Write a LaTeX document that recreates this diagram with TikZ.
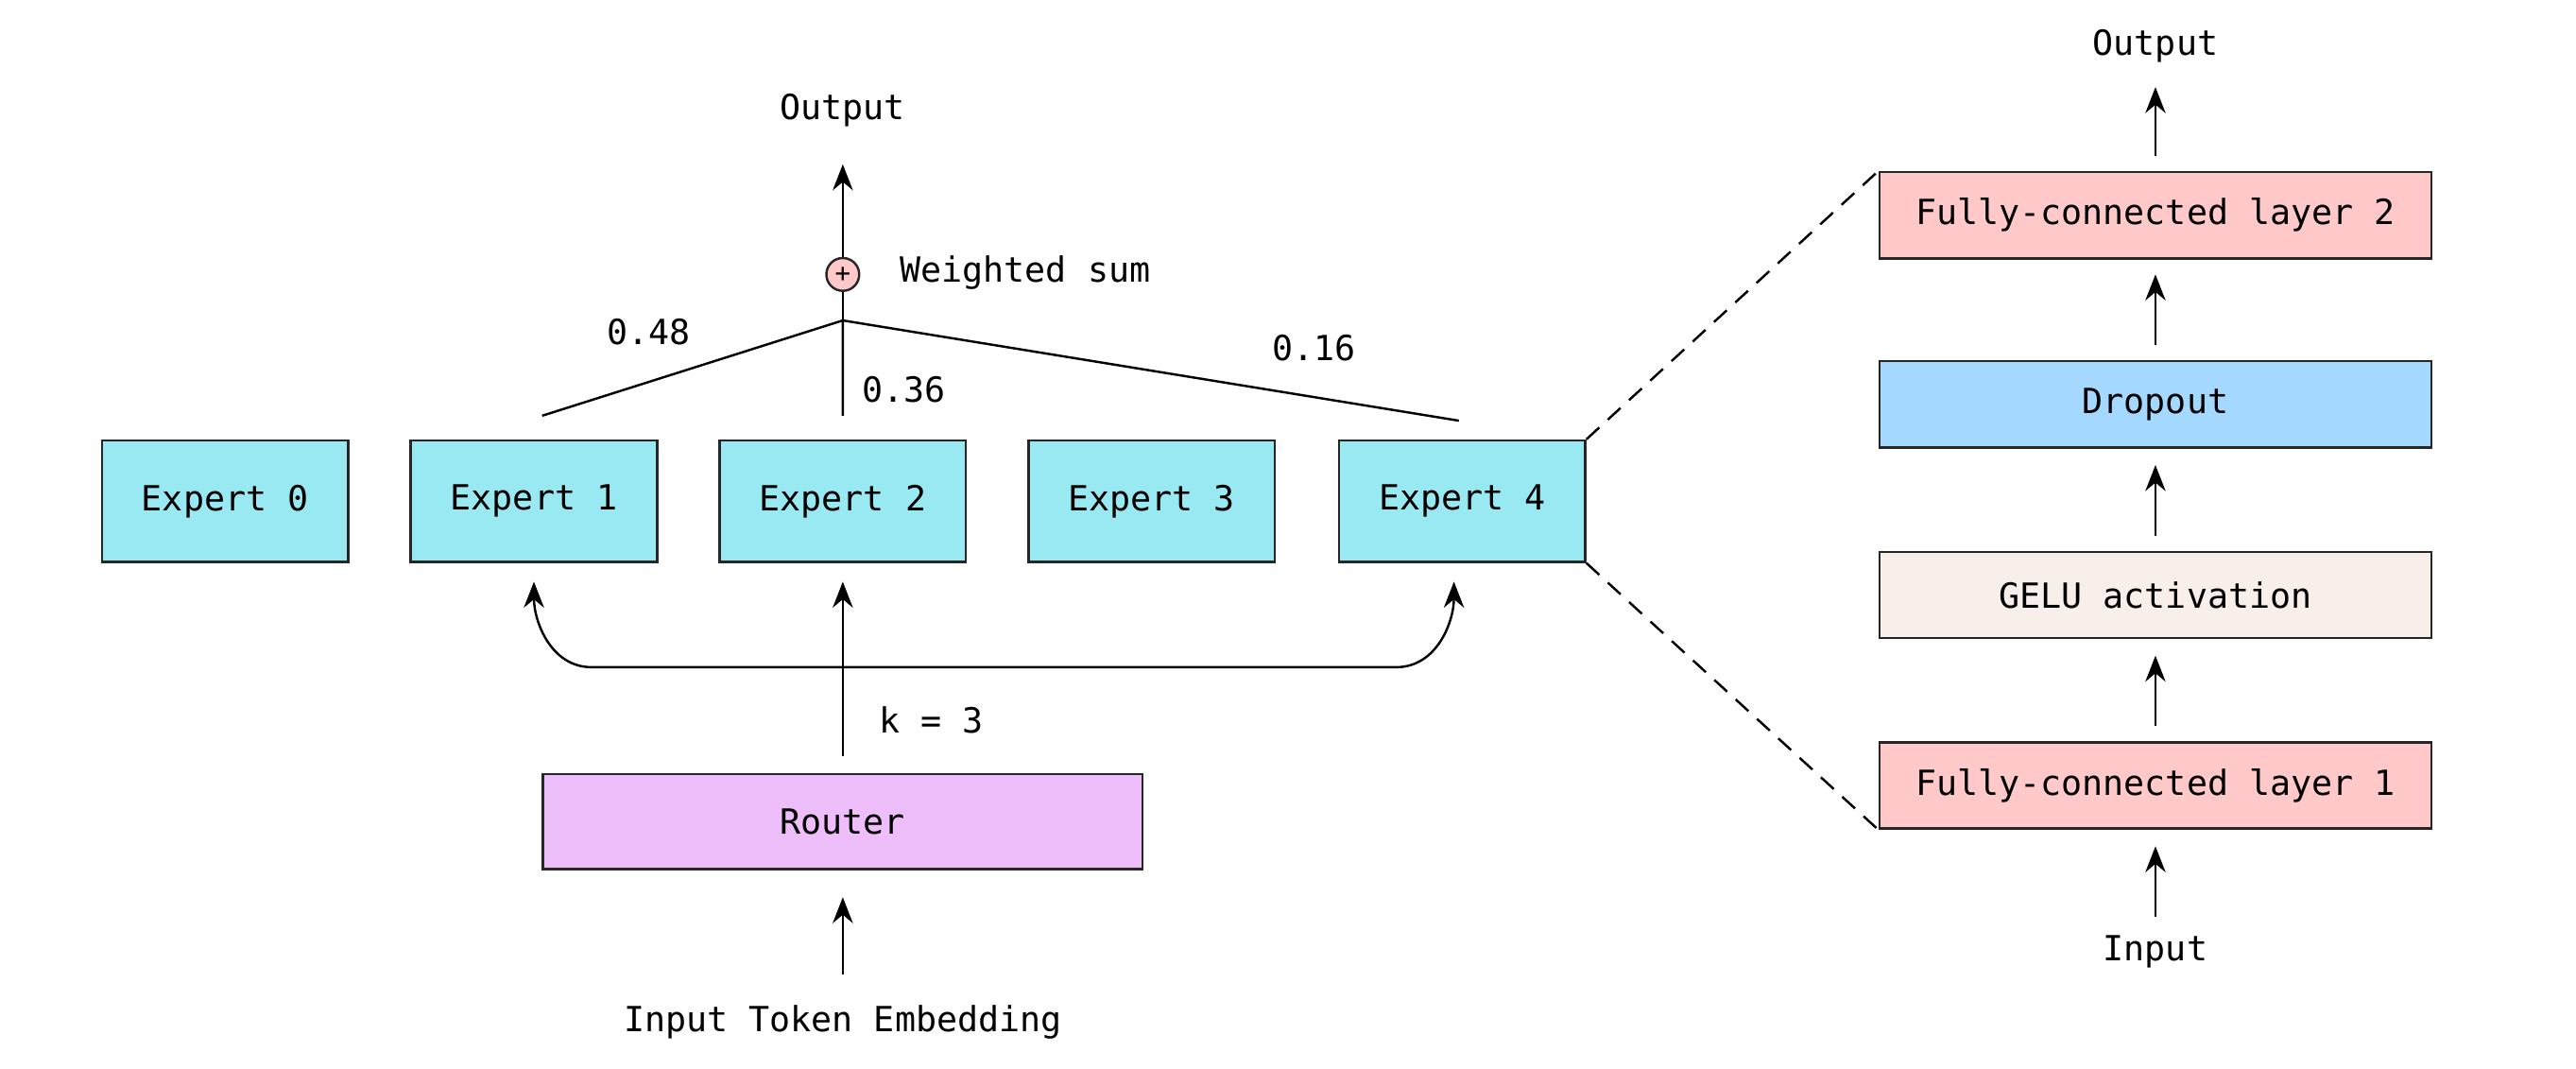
\documentclass[tikz,border=0pt]{standalone}
\usepackage{fontspec}
\setmainfont{DejaVu Sans Mono}
\usetikzlibrary{arrows.meta}
\definecolor{cy}{HTML}{99E9F2}
\definecolor{vi}{HTML}{EEBEFA}
\definecolor{pk}{HTML}{FFC9C9}
\definecolor{bl}{HTML}{A5D8FF}
\definecolor{be}{HTML}{F8EEEA}
\begin{document}
\begin{tikzpicture}[x=0.02cm,y=-0.02cm,
  box/.style={draw=black!85,line width=0.8pt,minimum width=3cm,minimum height=1.48cm,fill=cy,font=\large},
  rbox/.style={draw=black!85,line width=0.8pt,minimum width=6.72cm,minimum height=1.05cm,font=\large},
  lab/.style={font=\large},
  arr/.style={-{Stealth[length=9pt,width=7pt]},line width=0.8pt},
  ln/.style={line width=0.8pt}]
\useasboundingbox (0,0) rectangle (1568,650);
\node[box] (e0) at (137,305) {Expert 0};
\node[box] (e1) at (325,305) {Expert 1};
\node[box] (e2) at (513,305) {Expert 2};
\node[box] (e3) at (701,305) {Expert 3};
\node[box] (e4) at (890,305) {Expert 4};
\node[draw=black!85,line width=0.8pt,fill=vi,minimum width=7.3cm,minimum height=1.16cm,font=\large] (r) at (513,500) {Router};
\node[lab] (in) at (513,622) {Input Token Embedding};
\coordinate (ia) at (513,593);
\draw[arr] (ia) -- (r.south |- 0,546);
\coordinate (ra) at (513,460);
\coordinate (rm) at (513,406);
\draw[arr] (ra) -- (513,354);
\coordinate (c1) at (325,354);
\coordinate (c4) at (885,354);
\draw[arr] (rm) -- (360,406) to[out=180,in=-90] (c1);
\draw[arr] (rm) -- (850,406) to[out=0,in=-90] (c4);
\node[lab] at (567,438) {k = 3};
\coordinate (j) at (513,195);
\coordinate (l1) at (330,253);
\coordinate (l2) at (513,253);
\coordinate (l4) at (888,256);
\draw[ln] (l1) -- (j) -- (l2); \draw[ln] (l4) -- (j);
\node[draw=black!85,line width=0.8pt,fill=pk,circle,inner sep=0pt,minimum size=0.4cm,font=\small] (p) at (513,167) {+};
\draw[ln] (j) -- (p);
\coordinate (oa) at (513,100);
\draw[arr] (p) -- (oa);
\node[lab] at (513,67) {Output};
\node[lab] at (395,202) {0.48};
\node[lab] at (550,237) {0.36};
\node[lab] at (800,212) {0.16};
\node[lab] at (624,166) {Weighted sum};
% right
\node[rbox,fill=pk] (f2) at (1312,131) {Fully-connected layer 2};
\node[rbox,fill=bl] (d) at (1312,246) {Dropout};
\node[rbox,fill=be] (g) at (1312,362) {GELU activation};
\node[rbox,fill=pk] (f1) at (1312,478) {Fully-connected layer 1};
\draw[arr] (1312,442) -- (1312,399);
\draw[arr] (1312,326) -- (1312,283);
\draw[arr] (1312,210) -- (1312,167);
\coordinate (ro) at (1312,95);
\draw[arr] (ro) -- (1312,53);
\node[lab] at (1312,28) {Output};
\coordinate (ri) at (1312,558);
\draw[arr] (ri) -- (1312,515);
\node[lab] at (1312,579) {Input};
\draw[ln,dash pattern=on 6pt off 4pt] (e4.north east) -- (f2.north west);
\draw[ln,dash pattern=on 6pt off 4pt] (e4.south east) -- (f1.south west);
\end{tikzpicture}
\end{document}
